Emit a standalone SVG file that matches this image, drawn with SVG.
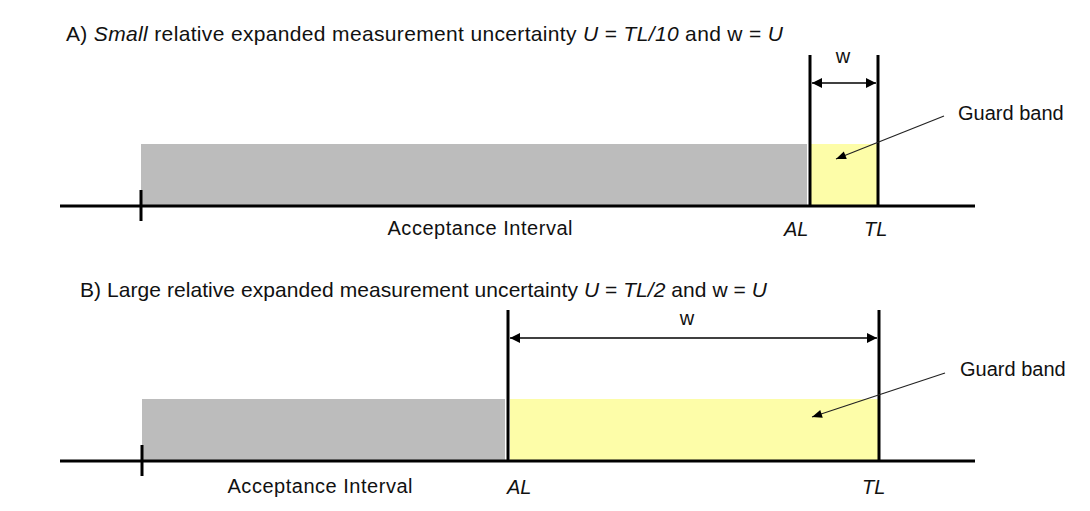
<svg xmlns="http://www.w3.org/2000/svg" width="1090" height="511" viewBox="0 0 1090 511">
<defs>
<style>
text{font-family:"Liberation Sans",Arial,sans-serif;fill:#111}
.t{font-size:21px}
.l{font-size:20px}
.it{font-style:italic}
.gray{fill:#bcbcbc}
.yel{fill:#fdfda8}
.thick{stroke:#000;stroke-width:3;fill:none}
.dim{stroke:#000;stroke-width:1.5;fill:none}
.lead{stroke:#222;stroke-width:1.2;fill:none}
</style>
<marker id="ah" viewBox="0 0 10 10" refX="10" refY="5" markerWidth="10" markerHeight="10" markerUnits="userSpaceOnUse" orient="auto-start-reverse">
<path d="M0,0 L10,5 L0,10 z" fill="#000"/>
</marker>
<marker id="ah2" viewBox="0 0 10 10" refX="10" refY="5" markerWidth="12" markerHeight="10" markerUnits="userSpaceOnUse" orient="auto">
<path d="M0,1 L10,5 L0,9 z" fill="#000"/>
</marker>
</defs>
<rect width="1090" height="511" fill="#fff"/>

<g id="panelA">
<text id="titleA" class="t" x="66" y="41" textLength="717" lengthAdjust="spacing">A) <tspan class="it">Small</tspan> relative expanded measurement uncertainty <tspan class="it">U</tspan> = <tspan class="it">TL/10</tspan> and w = <tspan class="it">U</tspan></text>
<g id="acceptA"><rect class="gray" x="141" y="144" width="666" height="61"/></g>
<g id="guardA"><rect class="yel" x="811" y="144" width="67" height="61"/></g>
<g id="axisA">
<line class="thick" x1="60" y1="206" x2="975" y2="206"/>
<line class="thick" x1="141" y1="190" x2="141" y2="221"/>
<line class="thick" x1="810" y1="55" x2="810" y2="207"/>
<line class="thick" x1="878" y1="55" x2="878" y2="207"/>
</g>
<text class="l" x="843" y="63" text-anchor="middle" font-size="17">w</text>
<text class="l" x="958" y="120">Guard band</text>
<text class="l" x="480" y="235" text-anchor="middle" textLength="185" lengthAdjust="spacing">Acceptance Interval</text>
<text class="l it" x="784" y="236" font-size="21">AL</text>
<text class="l it" x="864" y="236" font-size="21">TL</text>
</g>

<g id="panelB">
<text id="titleB" class="t" x="80" y="297" textLength="687" lengthAdjust="spacing">B) Large relative expanded measurement uncertainty <tspan class="it">U</tspan> = <tspan class="it">TL/2</tspan> and w = <tspan class="it">U</tspan></text>
<g id="acceptB"><rect class="gray" x="142" y="399" width="363" height="61"/></g>
<g id="guardB"><rect class="yel" x="510" y="399" width="369" height="61"/></g>
<g id="axisB">
<line class="thick" x1="60" y1="461" x2="975" y2="461"/>
<line class="thick" x1="142" y1="445" x2="142" y2="476"/>
<line class="thick" x1="508" y1="310" x2="508" y2="462"/>
<line class="thick" x1="879" y1="310" x2="879" y2="462"/>
</g>
<text class="l" x="687" y="325" text-anchor="middle" font-size="17">w</text>
<text class="l" x="960" y="376">Guard band</text>
<text class="l" x="320" y="493" text-anchor="middle" textLength="185" lengthAdjust="spacing">Acceptance Interval</text>
<text class="l it" x="507" y="494" font-size="21">AL</text>
<text class="l it" x="862" y="494" font-size="21">TL</text>
</g>

<g id="connectors">
<line class="dim" x1="812" y1="83" x2="876" y2="83" marker-start="url(#ah)" marker-end="url(#ah)"/>
<line class="lead" x1="944" y1="116" x2="836" y2="159" marker-end="url(#ah2)"/>
<line class="dim" x1="510" y1="338" x2="877" y2="338" marker-start="url(#ah)" marker-end="url(#ah)"/>
<line class="lead" x1="945" y1="373" x2="812" y2="417" marker-end="url(#ah2)"/>
</g>
</svg>
